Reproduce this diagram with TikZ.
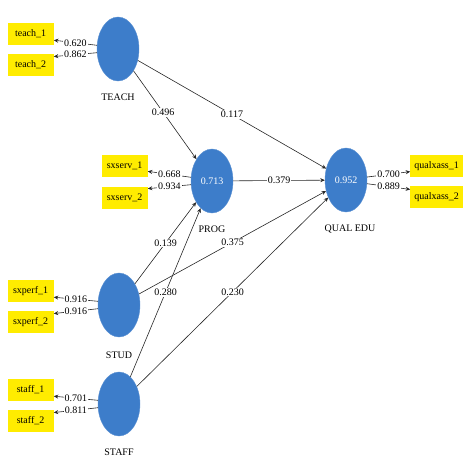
\documentclass[tikz,border=0pt]{standalone}
\usepackage{fontspec}
\setmainfont{Liberation Serif}
\usetikzlibrary{positioning,arrows.meta,shapes.geometric}

\definecolor{lvblue}{RGB}{61,125,202}
\definecolor{mvyellow}{RGB}{255,236,0}

\begin{document}
\begin{tikzpicture}[
  x=1pt,y=-1pt,
  font=\fontsize{10}{12}\selectfont,
  lv/.style={ellipse,fill=lvblue,draw=lvblue!85!white,minimum width=42pt,
             minimum height=64pt,inner sep=0pt,text=white},
  lvname/.style={inner sep=0pt},
  ind/.style={rectangle,fill=mvyellow,minimum width=46pt,minimum height=22pt,
              inner sep=4pt},
  arr/.style={-{Stealth[length=4.5pt,width=4pt]},line width=0.6pt,black!85},
  coef/.style={fill=white,inner sep=1pt,text=black},
]
\useasboundingbox (0,0) rectangle (474,474);

% ---- latent variables ----
\node[lv] (teach) at (118,49)  {};
\node[lv] (prog)  at (212,181) {0.713};
\node[lv] (qual)  at (346,180) {0.952};
\node[lv] (stud)  at (119,305) {};
\node[lv] (staff) at (119,404) {};

\node[lvname,below=12pt of teach] (teachN) {TEACH};
\node[lvname,below=12pt of prog]  (progN)  {PROG};
\node[lvname,below=12pt of qual,xshift=4pt] (qualN) {QUAL EDU};
\node[lvname,below=14pt of stud]  (studN)  {STUD};
\node[lvname,below=12pt of staff] (staffN) {STAFF};

% ---- indicators ----
\node[ind,left=43pt of teach,yshift=15pt]  (teachA) {teach\_1};
\node[ind,left=43pt of teach,yshift=-16pt] (teachB) {teach\_2};
\node[ind,left=43pt of prog,yshift=15pt]   (progA)  {sxserv\_1};
\node[ind,left=43pt of prog,yshift=-17pt]  (progB)  {sxserv\_2};
\node[ind,left=44pt of stud,yshift=14pt]   (studA)  {sxperf\_1};
\node[ind,left=44pt of stud,yshift=-17pt]  (studB)  {sxperf\_2};
\node[ind,left=44pt of staff,yshift=14pt]  (staffA) {staff\_1};
\node[ind,left=44pt of staff,yshift=-17pt] (staffB) {staff\_2};
\node[ind,right=43pt of qual,yshift=14pt]  (qualA)  {qualxass\_1};
\node[ind,right=43pt of qual,yshift=-17pt] (qualB)  {qualxass\_2};

% ---- outer loadings ----
\draw[arr] (teach.170) -- node[coef] {0.620} (teachA.-15);
\draw[arr] (teach.190) -- node[coef] {0.862} (teachB.20);
\draw[arr] (prog.170)  -- node[coef] {0.668} (progA.-13);
\draw[arr] (prog.190)  -- node[coef] {0.934} (progB.22);
\draw[arr] (stud.170)  -- node[coef] {0.916} (studA.-15);
\draw[arr] (stud.190)  -- node[coef] {0.916} (studB.20);
\draw[arr] (staff.170) -- node[coef] {0.701} (staffA.-15);
\draw[arr] (staff.190) -- node[coef] {0.811} (staffB.20);
\draw[arr] (qual.8)    -- node[coef] {0.700} (qualA.192);
\draw[arr] (qual.-10)  -- node[coef] {0.889} (qualB.164);

% ---- path coefficients ----
\draw[arr] (teach) -- node[coef,pos=0.47] {0.496} (prog);
\draw[arr] (teach) -- node[coef] {0.117} (qual);
\draw[arr] (prog)  -- node[coef] {0.379} (qual);
\draw[arr] (stud)  -- node[coef] {0.139} (prog);
\draw[arr] (stud)  -- node[coef] {0.375} (qual);
\draw[arr] (staff) -- node[coef] {0.280} (prog);
\draw[arr] (staff) -- node[coef] {0.230} (qual);
\end{tikzpicture}
\end{document}
